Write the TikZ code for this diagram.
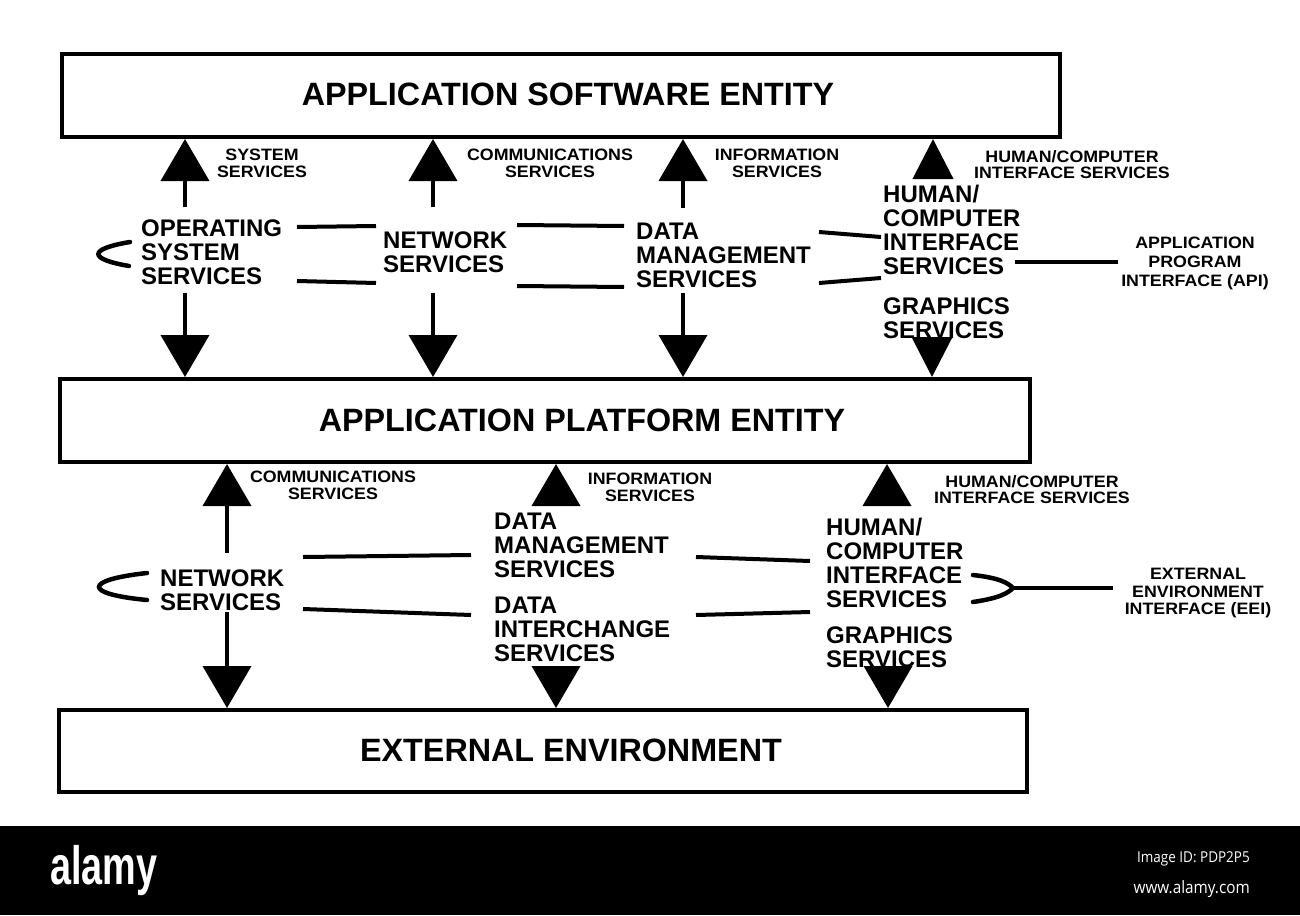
\documentclass[tikz,border=0pt]{standalone}
\usepackage{fontspec}
\setmainfont{Liberation Sans}
\newfontfamily\smf[FakeStretch=1.08]{Liberation Sans}
\newfontfamily\wmf[FakeStretch=0.7]{Liberation Sans}
\newfontfamily\wml[FakeStretch=0.9]{Open Sans}
\usetikzlibrary{arrows.meta}
\tikzset{
  entity/.style={draw, line width=4pt, inner sep=0pt, anchor=north west},
  big/.style={font=\bfseries\fontsize{32.3}{32.3}\selectfont, inner sep=0pt},
  svc/.style={font=\bfseries\fontsize{24}{24}\selectfont, align=left, anchor=north west, inner sep=0pt},
  lbl/.style={font=\smf\bfseries\fontsize{16.5}{16.5}\selectfont, align=center, anchor=north, inner sep=0pt},
  arr/.style={line width=4pt, -{Triangle[length=42pt,width=48pt]}},
  arrs/.style={line width=4pt, -{Triangle[length=40pt,width=40pt]}},
  conn/.style={line width=4pt},
  brk/.style={line width=4.5pt, line cap=round}
}
\begin{document}
\begin{tikzpicture}[x=1pt,y=-1pt]
\useasboundingbox (0,0) rectangle (1300,915);
\fill[white] (0,0) rectangle (1300,826);
% entity boxes
\node[entity, minimum width=998pt, minimum height=83pt] (ase) at (60,52) {};
\node[big] (aset) at (568,94) {APPLICATION SOFTWARE ENTITY};
\node[entity, minimum width=970pt, minimum height=83pt] (ape) at (58,377) {};
\node[big] (apet) at (582,420) {APPLICATION PLATFORM ENTITY};
\node[entity, minimum width=968pt, minimum height=82pt] (epe) at (57,708) {};
\node[big] (epet) at (571,750) {EXTERNAL ENVIRONMENT};

% ---------- upper section ----------
\node[svc] (os) at (141,220) {OPERATING\\SYSTEM\\SERVICES};
\node[svc] (net1) at (383,232) {NETWORK\\SERVICES};
\node[svc] (dm1) at (636,223) {DATA\\MANAGEMENT\\SERVICES};
\node[svc] (hci1) at (883,185) {HUMAN/\\COMPUTER\\INTERFACE\\SERVICES};
\node[svc] (gr1) at (883,298) {GRAPHICS\\SERVICES};
\node[lbl, font=\smf\bfseries\fontsize{16.5}{19}\selectfont] (api) at (1195,237) {APPLICATION\\PROGRAM\\INTERFACE (API)};
\node[lbl] (sys) at (262,149) {SYSTEM\\SERVICES};
\node[lbl] (com1) at (550,149) {COMMUNICATIONS\\SERVICES};
\node[lbl] (inf1) at (777,149) {INFORMATION\\SERVICES};
\node[lbl] (hcil1) at (1072,150) {HUMAN/COMPUTER\\INTERFACE SERVICES};

\coordinate (u1) at (185,207);
\coordinate (d1) at (185,293);
\coordinate (u2) at (433,207);
\coordinate (d2) at (433,293);
\coordinate (u3) at (683,208);
\coordinate (d3) at (683,293);
\coordinate (u4) at (933,175);
\coordinate (d4) at (932,340);
\draw[arr] (u1) -- (u1 |- ase.south);
\draw[arr] (d1) -- (d1 |- ape.north);
\draw[arr] (u2) -- (u2 |- ase.south);
\draw[arr] (d2) -- (d2 |- ape.north);
\draw[arr] (u3) -- (u3 |- ase.south);
\draw[arr] (d3) -- (d3 |- ape.north);
\draw[arrs] (u4) -- (u4 |- ase.south);
\draw[arrs] (d4) -- (d4 |- ape.north);

\coordinate (osa) at (297,227); \coordinate (nta) at (376,226);
\coordinate (osb) at (297,281); \coordinate (ntb) at (376,283);
\draw[conn] (osa) -- (nta);
\draw[conn] (osb) -- (ntb);
\coordinate (nsa) at (517,225); \coordinate (dma) at (624,226);
\coordinate (nsb) at (517,286); \coordinate (dmb) at (624,287);
\draw[conn] (nsa) -- (dma);
\draw[conn] (nsb) -- (dmb);
\coordinate (dsa) at (819,232); \coordinate (hca) at (881,237);
\coordinate (dsb) at (819,283); \coordinate (hcb) at (881,278);
\draw[conn] (dsa) -- (hca);
\draw[conn] (dsb) -- (hcb);
\coordinate (hapi) at (1015,262); \coordinate (apil) at (1118,262);
\draw[conn] (hapi) -- (apil);
\coordinate (bl1a) at (130,242); \coordinate (bl1b) at (129,266);
\draw[brk] (bl1a) .. controls (88,249) and (88,259) .. (bl1b);

% ---------- lower section ----------
\node[svc] (net2) at (160,570) {NETWORK\\SERVICES};
\node[svc] (dm2) at (494,513) {DATA\\MANAGEMENT\\SERVICES};
\node[svc] (di2) at (494,597) {DATA\\INTERCHANGE\\SERVICES};
\node[svc] (hci2) at (826,518) {HUMAN/\\COMPUTER\\INTERFACE\\SERVICES};
\node[svc] (gr2) at (826,627) {GRAPHICS\\SERVICES};
\node[lbl, font=\smf\bfseries\fontsize{16.5}{17.5}\selectfont] (eei) at (1198,568) {EXTERNAL\\ENVIRONMENT\\INTERFACE (EEI)};
\node[lbl] (com2) at (333,471) {COMMUNICATIONS\\SERVICES};
\node[lbl] (inf2) at (650,473) {INFORMATION\\SERVICES};
\node[lbl] (hcil2) at (1032,475) {HUMAN/COMPUTER\\INTERFACE SERVICES};

\coordinate (v1) at (227,553);
\coordinate (e1) at (227,612);
\coordinate (v2) at (556,503);
\coordinate (e2) at (556,666);
\coordinate (v3) at (887,503);
\coordinate (e3) at (888,668);
\draw[arr] (v1) -- (v1 |- ape.south);
\draw[arr] (e1) -- (e1 |- epe.north);
\draw[arr] (v2) -- (v2 |- ape.south);
\draw[arr] (e2) -- (e2 |- epe.north);
\draw[arr] (v3) -- (v3 |- ape.south);
\draw[arr] (e3) -- (e3 |- epe.north);

\coordinate (n2a) at (303,557); \coordinate (m2a) at (471,555);
\coordinate (n2b) at (303,609); \coordinate (m2b) at (471,615);
\draw[conn] (n2a) -- (m2a);
\draw[conn] (n2b) -- (m2b);
\coordinate (d2a) at (696,557); \coordinate (h2a) at (810,561);
\coordinate (d2b) at (696,615); \coordinate (h2b) at (810,612);
\draw[conn] (d2a) -- (h2a);
\draw[conn] (d2b) -- (h2b);
\coordinate (bl2a) at (147,573); \coordinate (bl2b) at (147,600);
\draw[brk] (bl2a) .. controls (83,580) and (83,594) .. (bl2b);
\coordinate (br2a) at (973,575); \coordinate (br2v) at (1013,588); \coordinate (br2b) at (973,602);
\draw[brk] (br2a) .. controls (1000,578) and (1008,583) .. (br2v) .. controls (1008,593) and (1000,598) .. (br2b);
\coordinate (eeil) at (1113,588);
\draw[conn] (br2v) -- (eeil);

% ---------- watermark strip ----------
\fill[black] (0,826) rectangle (1300,915);
\node[font=\wmf\bfseries\fontsize{54}{54}\selectfont, text=white, anchor=base west, inner sep=0pt] (alm) at (50,884) {alamy};
\node[font=\wml\fontsize{15}{15}\selectfont, text=white, anchor=base east, inner sep=0pt] (iid) at (1250,862) {Image ID: PDP2P5};
\node[font=\wml\fontsize{17}{17}\selectfont, text=white, anchor=base east, inner sep=0pt] (www) at (1250,893) {www.alamy.com};
\end{tikzpicture}
\end{document}
